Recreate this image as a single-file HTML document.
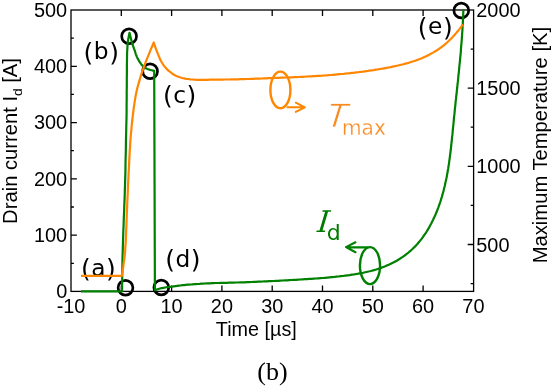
<!DOCTYPE html>
<html><head><meta charset="utf-8"><title>Drain current and maximum temperature</title>
<style>
html,body{margin:0;padding:0;background:#fff;}
svg{display:block}
text{font-family:"Liberation Sans",sans-serif;font-size:19.9px;fill:#000}
.ax{font-size:20.2px}
.lb{font-family:"DejaVu Sans",sans-serif;font-size:23.3px;letter-spacing:0.5px}
.pr{font-size:25px}
.cap{font-family:"Liberation Serif",serif;font-size:26px}
</style></head><body>
<svg width="553" height="388" viewBox="0 0 553 388">
<rect width="553" height="388" fill="#fff"/>
<g fill="none" stroke="#000" stroke-width="1.3">
<rect x="71.0" y="10.0" width="402.6" height="281.4"/>
<path d="M121.3,291.4 v-5.9 M121.3,10.0 v5.9 M171.6,291.4 v-5.9 M171.6,10.0 v5.9 M221.9,291.4 v-5.9 M221.9,10.0 v5.9 M272.2,291.4 v-5.9 M272.2,10.0 v5.9 M322.5,291.4 v-5.9 M322.5,10.0 v5.9 M372.8,291.4 v-5.9 M372.8,10.0 v5.9 M423.1,291.4 v-5.9 M423.1,10.0 v5.9 M71.0,263.3 h2.9 M71.0,235.1 h5.9 M71.0,207.0 h2.9 M71.0,178.8 h5.9 M71.0,150.7 h2.9 M71.0,122.6 h5.9 M71.0,94.4 h2.9 M71.0,66.3 h5.9 M71.0,38.1 h2.9 M473.6,283.6 h-2.9 M473.6,244.5 h-5.9 M473.6,205.4 h-2.9 M473.6,166.3 h-5.9 M473.6,127.2 h-2.9 M473.6,88.2 h-5.9 M473.6,49.1 h-2.9"/>
</g>
<g><text x="71.0" y="313" text-anchor="middle">-10</text><text x="121.3" y="313" text-anchor="middle">0</text><text x="171.6" y="313" text-anchor="middle">10</text><text x="221.9" y="313" text-anchor="middle">20</text><text x="272.2" y="313" text-anchor="middle">30</text><text x="322.5" y="313" text-anchor="middle">40</text><text x="372.8" y="313" text-anchor="middle">50</text><text x="423.1" y="313" text-anchor="middle">60</text><text x="473.4" y="313" text-anchor="middle">70</text><text x="67.2" y="298.2" text-anchor="end">0</text><text x="67.2" y="241.9" text-anchor="end">100</text><text x="67.2" y="185.6" text-anchor="end">200</text><text x="67.2" y="129.4" text-anchor="end">300</text><text x="67.2" y="73.1" text-anchor="end">400</text><text x="67.2" y="16.8" text-anchor="end">500</text><text x="476.3" y="251.6">500</text><text x="476.3" y="173.4">1000</text><text x="476.3" y="95.3">1500</text><text x="476.3" y="17.1">2000</text></g>
<text class="ax" x="256.3" y="335.8" text-anchor="middle" style="font-size:19.8px">Time [µs]</text>
<text class="ax" transform="translate(17.2,141) rotate(-90)" text-anchor="middle">Drain current I<tspan font-size="13.6px" dy="4.5">d</tspan><tspan dy="-4.5"> [A]</tspan></text>
<text class="ax" transform="translate(546.6,145.1) rotate(-90)" text-anchor="middle">Maximum Temperature [K]</text>
<text x="80.9" y="275.5" class="lb"><tspan class="pr" dy="1.4">(</tspan><tspan dy="-1.4">a</tspan><tspan class="pr" dy="1.4">)</tspan></text>
<text x="83.6" y="59.3" class="lb"><tspan class="pr" dy="1.4">(</tspan><tspan dy="-1.4">b</tspan><tspan class="pr" dy="1.4">)</tspan></text>
<text x="163" y="102.7" class="lb"><tspan class="pr" dy="1.4">(</tspan><tspan dy="-1.4">c</tspan><tspan class="pr" dy="1.4">)</tspan></text>
<text x="165.2" y="266.9" class="lb"><tspan class="pr" dy="1.4">(</tspan><tspan dy="-1.4">d</tspan><tspan class="pr" dy="1.4">)</tspan></text>
<text x="417.8" y="34.4" class="lb"><tspan class="pr" dy="1.4">(</tspan><tspan dy="-1.4">e</tspan><tspan class="pr" dy="1.4">)</tspan></text>
<g fill="none" stroke="#000" stroke-width="2.7">
<circle cx="125.5" cy="287.7" r="7.4"/>
<circle cx="129.1" cy="36.2" r="7.4"/>
<circle cx="150.1" cy="71.3" r="7.4"/>
<circle cx="161.3" cy="287.5" r="7.4"/>
<circle cx="461.3" cy="10.5" r="7.4"/>
</g>
<polyline fill="none" stroke="#008000" stroke-width="2.2" stroke-linejoin="round" points="81.0,291.3 121.9,291.3 122.1,291.3 122.1,284.7 122.2,278.0 122.3,271.4 122.4,264.8 122.5,258.1 122.7,251.5 122.9,244.9 123.1,238.2 123.3,231.6 123.6,225.0 123.8,218.3 124.1,211.7 124.3,205.1 124.6,198.4 124.8,191.8 125.0,185.2 125.2,178.6 125.4,171.9 125.5,165.3 125.6,158.7 125.8,152.0 125.9,145.4 126.0,138.7 126.2,132.1 126.3,125.5 126.5,118.8 126.6,112.2 126.6,105.6 126.7,98.9 126.7,92.3 126.8,85.7 126.8,79.0 126.9,72.4 126.9,65.8 127.0,59.1 127.1,52.5 127.5,45.9 128.2,39.3 129.5,32.8 129.8,34.0 130.1,35.2 130.4,36.4 130.7,37.6 131.0,38.8 131.3,40.1 131.6,41.3 132.0,42.5 132.3,43.6 132.7,44.8 133.1,46.0 133.5,47.2 133.9,48.4 134.3,49.5 134.8,50.7 135.2,51.9 135.5,53.1 135.9,54.3 136.4,55.5 136.8,56.6 137.3,57.7 137.9,58.9 138.5,60.0 139.1,61.1 139.8,62.2 140.5,63.2 141.2,64.2 142.0,65.1 142.9,65.9 143.8,66.8 144.9,67.5 145.9,68.2 147.0,68.8 148.2,69.3 149.3,69.6 150.5,70.0 151.8,70.3 153.0,70.6 154.2,70.9 154.9,290.1 155.1,290.1 156.7,289.5 158.4,289.0 160.0,288.5 161.7,288.1 163.4,287.8 165.2,287.5 166.9,287.2 168.6,287.0 170.3,286.8 172.0,286.6 173.8,286.3 175.5,286.1 177.2,285.9 178.9,285.7 180.6,285.5 182.4,285.2 184.1,285.1 185.8,284.9 187.5,284.7 189.3,284.6 191.0,284.5 192.7,284.3 194.5,284.2 196.2,284.1 197.9,284.0 199.6,283.9 201.4,283.7 203.1,283.6 204.8,283.5 206.6,283.4 208.3,283.3 210.0,283.3 211.8,283.2 213.5,283.1 215.2,283.0 217.0,283.0 218.7,283.0 220.5,282.9 222.2,282.9 224.4,282.8 226.7,282.8 229.0,282.7 231.2,282.7 233.5,282.6 235.7,282.5 238.0,282.5 240.2,282.4 242.4,282.3 244.7,282.3 246.9,282.2 249.2,282.1 251.4,282.0 253.6,281.9 255.9,281.8 258.1,281.7 260.3,281.6 262.5,281.5 264.8,281.4 267.0,281.3 269.2,281.2 271.5,281.1 273.7,281.0 275.9,280.9 278.1,280.8 280.4,280.6 282.6,280.5 284.8,280.4 287.0,280.3 289.3,280.1 291.5,280.0 293.7,279.9 296.0,279.8 298.2,279.6 300.4,279.5 302.6,279.3 304.9,279.2 307.1,279.1 309.4,278.9 311.6,278.8 313.8,278.6 316.1,278.5 318.3,278.3 320.6,278.1 322.8,278.0 325.0,277.8 327.3,277.6 329.5,277.4 331.8,277.2 334.0,277.0 336.3,276.7 338.5,276.5 340.7,276.2 343.0,276.0 345.2,275.7 347.5,275.4 349.7,275.1 351.9,274.7 354.2,274.4 356.4,274.0 358.6,273.6 360.9,273.2 363.1,272.8 365.3,272.3 367.5,271.8 369.7,271.3 371.9,270.7 374.1,270.1 376.2,269.5 378.4,268.8 380.5,268.1 382.6,267.3 384.7,266.5 386.8,265.6 388.8,264.7 390.8,263.8 392.8,262.8 394.8,261.7 396.7,260.7 398.7,259.5 400.5,258.3 402.4,257.1 404.2,255.8 406.0,254.5 407.7,253.2 409.4,251.7 411.1,250.3 412.7,248.8 414.3,247.2 415.9,245.6 417.4,244.0 418.8,242.3 420.2,240.6 421.6,238.9 422.9,237.1 424.2,235.2 425.5,233.4 426.7,231.5 427.8,229.6 429.0,227.7 430.0,225.8 431.1,223.8 432.1,221.8 433.1,219.8 434.0,217.8 435.0,215.8 435.8,213.8 436.7,211.8 437.5,209.7 438.3,207.6 439.0,205.5 439.8,203.4 440.5,201.3 441.1,199.2 441.8,197.1 442.4,194.9 443.0,192.8 443.6,190.6 444.1,188.4 444.7,186.3 445.2,184.1 445.6,181.9 446.1,179.7 446.6,177.5 447.0,175.2 447.4,173.0 447.8,170.8 448.2,168.5 448.5,166.3 448.9,164.1 449.2,161.8 449.5,159.6 449.8,157.3 450.1,155.0 450.4,152.8 450.7,150.5 450.9,148.3 451.2,146.0 451.4,143.7 451.7,141.5 451.9,139.2 452.1,136.9 452.4,134.7 452.6,132.4 452.8,130.2 453.0,127.9 453.3,125.6 453.5,123.4 453.7,121.2 453.9,118.9 454.1,116.7 454.4,114.4 454.6,112.2 454.8,110.0 455.0,107.8 455.3,105.6 455.5,103.4 455.7,101.1 456.0,98.9 456.2,96.7 456.5,94.5 456.7,92.3 456.9,90.2 457.2,88.0 457.4,85.8 457.6,83.6 457.9,81.4 458.1,79.2 458.3,77.0 458.5,74.8 458.8,72.6 459.0,70.4 459.2,68.2 459.4,66.0 459.6,63.8 459.9,61.6 460.1,59.4 460.3,57.2 460.5,55.0 460.7,52.8 460.9,50.6 461.0,48.4 461.2,46.2 461.4,43.9 461.6,41.7 461.8,39.5 461.9,37.2 462.1,35.0 462.2,32.7 462.4,30.5 462.5,28.2 462.6,25.9 462.8,23.6 462.9,21.4 463.0,19.1 463.1,16.8 463.2,14.4 463.3,12.1 463.3,9.8"/>
<polyline fill="none" stroke="#ff8600" stroke-width="2.2" stroke-linejoin="round" points="81.0,275.8 121.8,275.8 122.5,271.8 123.1,267.9 123.6,263.9 124.2,259.9 124.7,255.9 125.1,251.9 125.3,247.9 125.6,243.9 125.8,239.9 126.0,235.9 126.1,231.9 126.3,227.8 126.5,223.8 126.6,219.8 126.8,215.8 126.9,211.8 127.1,207.8 127.2,203.7 127.4,199.7 127.6,195.7 127.8,191.7 127.9,187.7 128.1,183.7 128.3,179.7 128.5,175.6 128.7,171.6 128.9,167.6 129.1,163.6 129.3,159.6 129.5,155.6 129.7,151.6 130.0,147.6 130.2,143.5 130.5,139.5 130.8,135.5 131.2,131.5 131.5,127.5 131.9,123.5 132.4,119.5 132.8,115.5 133.3,111.5 133.8,107.6 134.4,103.6 135.0,99.6 135.7,95.6 136.5,91.7 137.4,87.8 138.5,83.9 139.6,80.1 140.7,76.2 142.0,72.4 143.3,68.6 144.7,64.8 146.1,61.0 147.6,57.3 149.1,53.6 150.6,49.9 152.2,46.2 153.8,42.5 154.4,44.6 155.1,46.6 155.8,48.7 156.6,50.7 157.4,52.7 158.2,54.7 159.0,56.7 159.9,58.7 160.8,60.7 161.9,62.5 163.0,64.3 164.3,66.1 165.7,67.8 167.2,69.4 168.7,70.9 170.4,72.2 172.1,73.5 174.0,74.7 175.9,75.7 177.8,76.5 179.9,77.3 182.0,78.0 184.1,78.4 186.2,78.8 188.3,79.0 190.5,79.3 192.6,79.5 194.8,79.7 197.0,79.8 199.1,79.8 201.3,79.8 203.4,79.8 205.6,79.8 207.7,79.8 209.9,79.7 212.1,79.7 214.2,79.7 216.4,79.7 218.6,79.6 220.7,79.6 222.9,79.6 225.0,79.5 227.2,79.5 229.4,79.5 231.5,79.4 233.7,79.4 235.8,79.3 238.0,79.3 240.1,79.2 242.3,79.2 244.5,79.1 246.6,79.0 248.8,79.0 250.9,78.9 253.1,78.8 255.3,78.7 257.4,78.6 259.6,78.6 261.7,78.5 263.9,78.4 266.0,78.3 268.2,78.2 270.4,78.1 272.5,78.1 274.7,78.0 276.8,77.9 279.0,77.8 281.2,77.7 283.3,77.6 285.5,77.5 287.6,77.5 289.8,77.4 291.9,77.3 294.1,77.2 296.3,77.1 298.4,77.0 300.6,76.9 302.7,76.8 304.9,76.7 307.1,76.5 309.2,76.4 311.4,76.3 313.5,76.2 315.7,76.1 317.8,75.9 320.0,75.8 322.1,75.7 324.3,75.5 326.4,75.3 328.6,75.2 330.8,75.0 332.9,74.8 335.1,74.6 337.2,74.4 339.4,74.2 341.5,74.0 343.7,73.8 345.8,73.5 348.0,73.3 350.1,73.1 352.2,72.8 354.4,72.6 356.5,72.3 358.7,72.1 360.8,71.8 363.0,71.6 365.1,71.3 367.3,71.0 369.4,70.7 371.5,70.4 373.7,70.1 375.8,69.7 377.9,69.4 380.1,69.0 382.2,68.7 384.3,68.3 386.4,67.9 388.6,67.5 390.7,67.1 392.8,66.6 394.9,66.2 397.0,65.7 399.1,65.2 401.2,64.7 403.3,64.2 405.4,63.6 407.5,63.1 409.6,62.5 411.6,61.8 413.7,61.2 415.8,60.5 417.8,59.7 419.8,59.0 421.8,58.2 423.8,57.3 425.7,56.4 427.7,55.5 429.6,54.5 431.5,53.4 433.4,52.4 435.3,51.3 437.1,50.2 438.9,49.0 440.7,47.7 442.4,46.4 444.1,45.1 445.8,43.7 447.4,42.2 448.9,40.8 450.5,39.2 452.0,37.7 453.5,36.1 454.9,34.5 456.3,32.9 457.7,31.2 459.1,29.6 460.4,27.9 461.7,26.1 463.0,24.4"/>
<g fill="none" stroke="#ff8600" stroke-linecap="round" stroke-linejoin="round">
<ellipse cx="280.4" cy="89.9" rx="10" ry="18.3" stroke-width="2.4"/>
<path d="M287.5,107.3 H304.8 M295.8,102.7 L304.8,107.3 L295.8,111.9" stroke-width="2"/>
</g>
<g fill="none" stroke="#008000" stroke-linecap="round" stroke-linejoin="round">
<ellipse cx="370" cy="265.6" rx="10.1" ry="18.5" stroke-width="2.4"/>
<path d="M368,247.4 L346,247.1 M355.5,242.3 L346,247.1 L355.5,252.2" stroke-width="2.1"/>
</g>
<text transform="translate(326.4,127) skewX(-6.5)" style="font-family:'DejaVu Sans',sans-serif;font-style:italic;font-size:32.4px;fill:#f98b22;stroke:#fff;stroke-width:0.7px">T</text>
<text transform="translate(342,134.9) scale(0.92,1)" style="font-family:'DejaVu Sans',sans-serif;font-size:21.9px;fill:#f98b22;stroke:#fff;stroke-width:0.3px">max</text>
<text transform="translate(316.8,231.7) skewX(-6)" style="font-family:'DejaVu Serif',serif;font-style:italic;font-size:29.8px;fill:#007a00">I</text>
<text x="326.8" y="240.2" style="font-family:'DejaVu Sans',sans-serif;font-size:22px;fill:#007a00">d</text>
<text class="cap" x="272.5" y="380" text-anchor="middle">(b)</text>
</svg>
</body></html>
